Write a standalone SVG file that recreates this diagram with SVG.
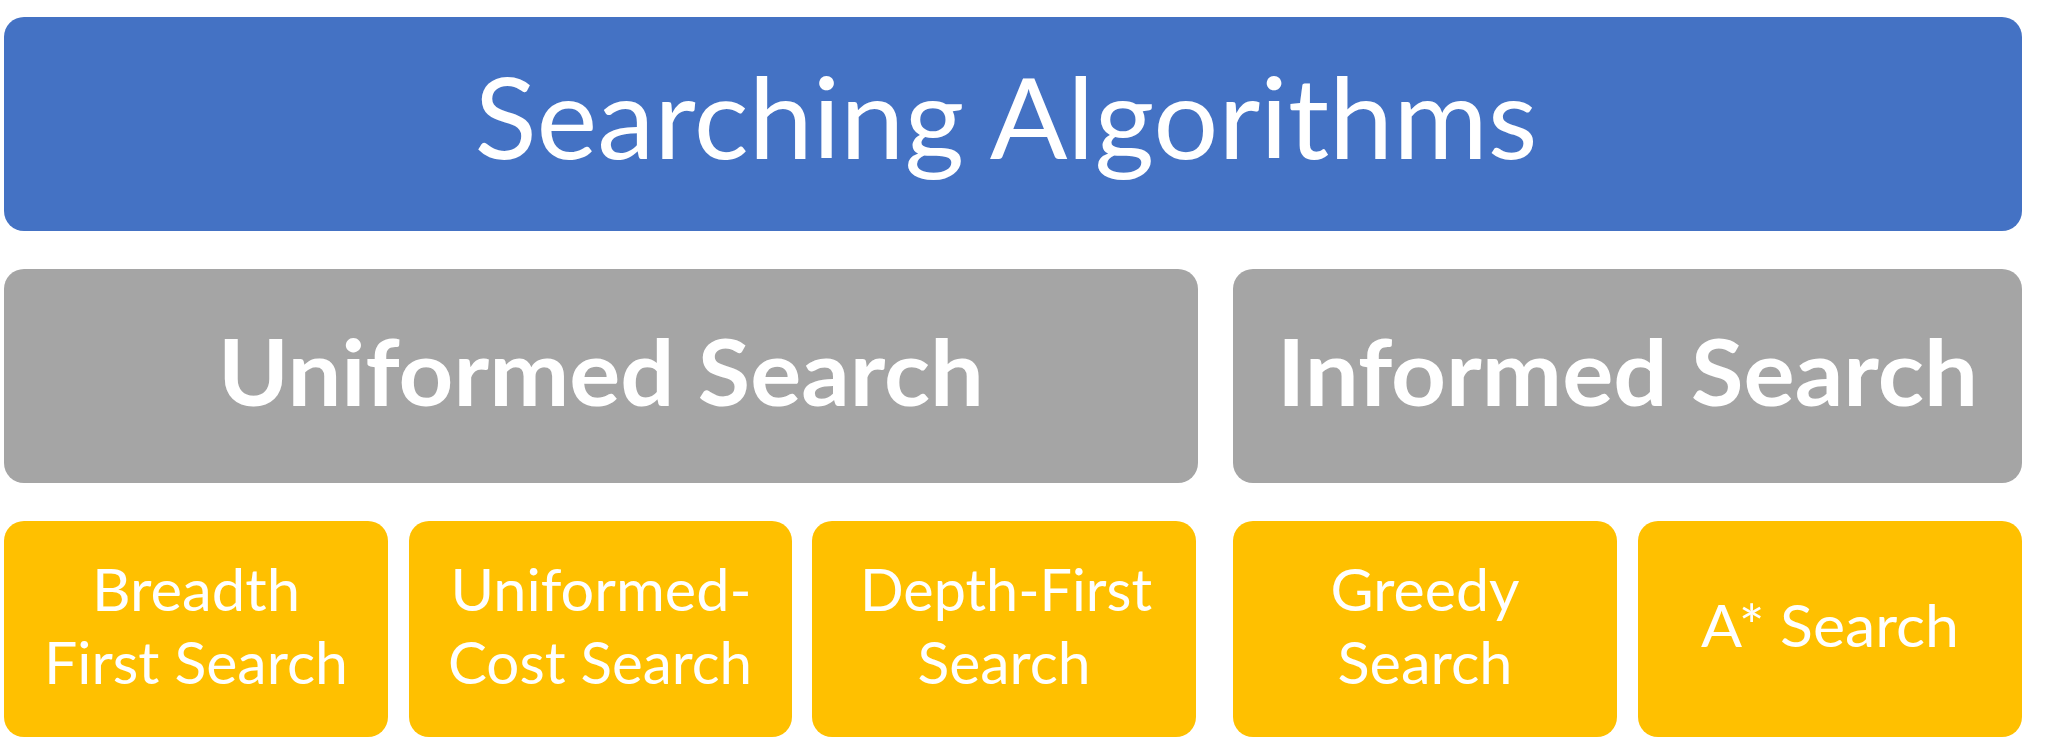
<svg xmlns="http://www.w3.org/2000/svg" width="2048" height="743" viewBox="0 0 2048 743">
  <style>
    .box { stroke: none; }
    .blue { fill: #4472C4; }
    .gray { fill: #A5A5A5; }
    .yellow { fill: #FFC000; }
    text { fill: #FFFFFF; font-family: Lato, Carlito, "Open Sans", "Liberation Sans", sans-serif; text-anchor: middle; }
    .title { font-size: 112px; font-weight: 400; }
    .cat { font-size: 92px; font-weight: 700; }
    .leaf { font-size: 58px; font-weight: 400; }
  </style>
  <rect width="2048" height="743" fill="#FFFFFF"/>
  <g id="connectors"></g>
  <g id="searching-algorithms">
    <rect class="box blue" x="4" y="17" width="2018" height="214" rx="20" ry="20"/>
    <text class="title" x="1006" y="159" textLength="1063" lengthAdjust="spacingAndGlyphs">Searching Algorithms</text>
  </g>
  <g id="uniformed-search">
    <rect class="box gray" x="4" y="269" width="1194" height="214" rx="20" ry="20"/>
    <text class="cat" x="601" y="406" textLength="766" lengthAdjust="spacingAndGlyphs">Uniformed Search</text>
  </g>
  <g id="informed-search">
    <rect class="box gray" x="1233" y="269" width="789" height="214" rx="20" ry="20"/>
    <text class="cat" x="1627.5" y="406" textLength="701" lengthAdjust="spacingAndGlyphs">Informed Search</text>
  </g>
  <g id="breadth-first-search">
    <rect class="box yellow" x="4" y="521" width="384" height="216" rx="20" ry="20"/>
    <text class="leaf" x="196" y="611" textLength="208" lengthAdjust="spacingAndGlyphs">Breadth</text>
    <text class="leaf" x="196" y="684" textLength="304" lengthAdjust="spacingAndGlyphs">First Search</text>
  </g>
  <g id="uniformed-cost-search">
    <rect class="box yellow" x="409" y="521" width="383" height="216" rx="20" ry="20"/>
    <text class="leaf" x="601" y="611" textLength="301" lengthAdjust="spacingAndGlyphs">Uniformed-</text>
    <text class="leaf" x="600" y="684" textLength="304" lengthAdjust="spacingAndGlyphs">Cost Search</text>
  </g>
  <g id="depth-first-search">
    <rect class="box yellow" x="812" y="521" width="384" height="216" rx="20" ry="20"/>
    <text class="leaf" x="1006" y="611" textLength="292" lengthAdjust="spacingAndGlyphs">Depth-First</text>
    <text class="leaf" x="1004" y="684" textLength="173" lengthAdjust="spacingAndGlyphs">Search</text>
  </g>
  <g id="greedy-search">
    <rect class="box yellow" x="1233" y="521" width="384" height="216" rx="20" ry="20"/>
    <text class="leaf" x="1425" y="611" textLength="189" lengthAdjust="spacingAndGlyphs">Greedy</text>
    <text class="leaf" x="1425" y="684" textLength="175" lengthAdjust="spacingAndGlyphs">Search</text>
  </g>
  <g id="a-star-search">
    <rect class="box yellow" x="1638" y="521" width="384" height="216" rx="20" ry="20"/>
    <text class="leaf" x="1830" y="647" textLength="258" lengthAdjust="spacingAndGlyphs">A* Search</text>
  </g>
</svg>
